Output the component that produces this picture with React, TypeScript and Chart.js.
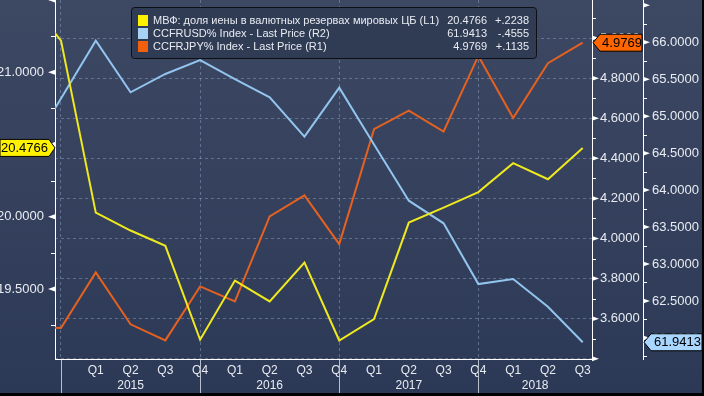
import React, { useEffect, useRef } from "react";
import { Chart, registerables } from "chart.js";

Chart.register(...registerables);

// ---- data ----
const quarters = [
  "Q3 2014", "Q4 2014",
  "Q1 2015", "Q2 2015", "Q3 2015", "Q4 2015",
  "Q1 2016", "Q2 2016", "Q3 2016", "Q4 2016",
  "Q1 2017", "Q2 2017", "Q3 2017", "Q4 2017",
  "Q1 2018", "Q2 2018", "Q3 2018",
];
// IMF: yen share of world FX reserves, % (left axis, L1)
const yenShare = [21.52, 21.219, 20.029, 19.905, 19.799, 19.149, 19.559, 19.414, 19.683, 19.144, 19.292, 19.96, 20.063, 20.171, 20.371, 20.26, 20.4766];
// CCFRUSD% Index (R2)
const usdIndex = [64.467, 65.24, 66.022, 65.323, 65.571, 65.76, 65.503, 65.256, 64.723, 65.386, 64.617, 63.857, 63.551, 62.729, 62.797, 62.422, 61.9413];
// CCFRJPY% Index (R1)
const jpyIndex = [3.556, 3.554, 3.831, 3.572, 3.492, 3.761, 3.686, 4.11, 4.215, 3.972, 4.546, 4.638, 4.534, 4.911, 4.601, 4.875, 4.9769];

const leftMajor = [19.5, 20.0, 20.5, 21.0, 21.5];
const leftMinor = [19.25, 19.75, 20.25, 20.75, 21.25];
const leftLabels = ["19.5000", "20.0000", "20.5000", "21.0000", ""];

const r1Major = [3.4, 3.6, 3.8, 4.0, 4.2, 4.4, 4.6, 4.8, 5.0];
const r1Minor = [3.5, 3.7, 3.9, 4.1, 4.3, 4.5, 4.7, 4.9, 5.1];
const r1Labels = ["", "3.6000", "3.8000", "4.0000", "4.2000", "4.4000", "4.6000", "4.8000", "5.0000"];

const r2Major = [62.0, 62.5, 63.0, 63.5, 64.0, 64.5, 65.0, 65.5, 66.0, 66.5];
const r2Minor = [61.75, 62.25, 62.75, 63.25, 63.75, 64.25, 64.75, 65.25, 65.75, 66.25];
const r2Labels = ["62.0000", "62.5000", "63.0000", "63.5000", "64.0000", "64.5000", "65.0000", "65.5000", "66.0000", ""];

const legendRows = [
  { label: "МВФ: доля иены в валютных резервах мировых ЦБ (L1)", last: "20.4766", change: "+.2238" },
  { label: "CCFRUSD% Index - Last Price (R2)", last: "61.9413", change: "-.4555" },
  { label: "CCFRJPY% Index - Last Price (R1)", last: "4.9769", change: "+.1135" },
];

// ---- styles ----
const YELLOW = "#efe91e";
const BLUE = "#92c4ee";
const ORANGE = "#e5611f";
const BADGE_YELLOW = "#fff200";
const BADGE_ORANGE = "#ff6600";
const BADGE_BLUE = "#a9d6ff";
const FONT = "'Liberation Sans', Arial, sans-serif";
const TEXT = "#e8ecf2";
const GRID = "rgba(150,170,205,0.45)";

const labelFor = (v: number, majors: number[], labels: string[]) => {
  const i = majors.findIndex((m) => Math.abs(m - v) < 1e-6);
  return i >= 0 ? labels[i] : "";
};
const isIn = (v: number, arr: number[]) => arr.some((m) => Math.abs(m - v) < 1e-6);

const fixSize = (w: number | null, h: number | null) => (s: any) => {
  if (w !== null) s.width = w;
  if (h !== null) s.height = h;
  s.paddingTop = 0;
  s.paddingBottom = 0;
  s.paddingLeft = 0;
  s.paddingRight = 0;
};

function drawAxisTicks(ctx: CanvasRenderingContext2D, scale: any, majors: number[], minors: number[], side: number) {
  const x0 = side < 0 ? scale.right : scale.left;
  ctx.save();
  ctx.fillStyle = "#ffffff";
  ctx.strokeStyle = "#ffffff";
  ctx.lineWidth = 1;
  for (const v of minors) {
    if (v < scale.min || v > scale.max) continue;
    const y = Math.round(scale.getPixelForValue(v)) + 0.5;
    ctx.beginPath();
    ctx.moveTo(x0, y);
    ctx.lineTo(x0 + side * 4, y);
    ctx.stroke();
  }
  for (const v of majors) {
    if (v < scale.min - 1e-6 || v > scale.max + 1e-6) continue;
    const y = scale.getPixelForValue(v);
    ctx.beginPath();
    ctx.moveTo(x0, y - 2.5);
    ctx.lineTo(x0 + side * 7, y);
    ctx.lineTo(x0, y + 2.5);
    ctx.closePath();
    ctx.fill();
  }
  ctx.restore();
}

function drawBadge(ctx: CanvasRenderingContext2D, tipX: number, bodyX0: number, bodyX1: number, y: number, color: string, text: string, pointRight: boolean) {
  const h = 17;
  ctx.save();
  ctx.fillStyle = color;
  ctx.strokeStyle = "#000";
  ctx.lineWidth = 1;
  ctx.beginPath();
  if (pointRight) {
    ctx.moveTo(bodyX0, y - h / 2);
    ctx.lineTo(bodyX1, y - h / 2);
    ctx.lineTo(tipX, y);
    ctx.lineTo(bodyX1, y + h / 2);
    ctx.lineTo(bodyX0, y + h / 2);
  } else {
    ctx.moveTo(tipX, y);
    ctx.lineTo(bodyX0, y - h / 2);
    ctx.lineTo(bodyX1, y - h / 2);
    ctx.lineTo(bodyX1, y + h / 2);
    ctx.lineTo(bodyX0, y + h / 2);
  }
  ctx.closePath();
  ctx.fill();
  ctx.stroke();
  ctx.fillStyle = "#000";
  ctx.font = `13px ${FONT}`;
  ctx.textAlign = "center";
  ctx.textBaseline = "middle";
  ctx.fillText(text, (bodyX0 + bodyX1) / 2 + (pointRight ? 0 : 1), y + 0.5);
  ctx.restore();
}

const decor = {
  id: "decor",
  beforeDraw(chart: any) {
    const { ctx, width, height } = chart;
    ctx.save();
    const g = ctx.createLinearGradient(0, 0, 0, height);
    g.addColorStop(0, "#3d4863");
    g.addColorStop(1, "#2c3956");
    ctx.fillStyle = g;
    ctx.fillRect(0, 0, width, height);
    ctx.fillStyle = "#000";
    ctx.fillRect(width - 2, 0, 2, height);
    ctx.fillRect(0, height - 3, width, 3);
    ctx.restore();
  },
  afterDraw(chart: any) {
    const { ctx, chartArea } = chart;
    const xs = chart.scales.x;
    const yL = chart.scales.yL;
    const yR1 = chart.scales.yR1;
    const yR2 = chart.scales.yR2;

    // year separators and year labels
    ctx.save();
    const boundaries: { year: string; px: number }[] = [];
    quarters.forEach((q, i) => {
      const [qq, yy] = q.split(" ");
      if (qq === "Q4" && i - 1 >= 0) boundaries.push({ year: yy, px: xs.getPixelForValue(i - 1) });
    });
    ctx.strokeStyle = "#b8c0cc";
    ctx.lineWidth = 1;
    for (const b of boundaries) {
      const x = Math.round(b.px) + 0.5;
      ctx.beginPath();
      ctx.moveTo(x, chartArea.bottom + 1);
      ctx.lineTo(x, chart.height - 3);
      ctx.stroke();
    }
    const years = Array.from(new Set(quarters.map((q) => q.split(" ")[1]))).filter((y) => y !== "2014");
    ctx.fillStyle = TEXT;
    ctx.font = `12px ${FONT}`;
    ctx.textAlign = "center";
    ctx.textBaseline = "middle";
    for (const y of years) {
      const start = boundaries.find((b) => Number(b.year) === Number(y) - 1);
      const end = boundaries.find((b) => b.year === y);
      const x0 = start ? start.px : chartArea.left;
      const x1 = end ? end.px : chartArea.right;
      ctx.fillText(y, (x0 + x1) / 2, 386);
    }
    ctx.restore();

    // axis ticks
    drawAxisTicks(ctx, yL, leftMajor, leftMinor, -1);
    drawAxisTicks(ctx, yR1, r1Major, r1Minor, 1);
    drawAxisTicks(ctx, yR2, r2Major, r2Minor, 1);

    // value badges
    const last = quarters.length - 1;
    drawBadge(ctx, yL.right, 0, yL.right - 6, yL.getPixelForValue(yenShare[last]), BADGE_YELLOW, legendRows[0].last, true);
    drawBadge(ctx, yR1.left + 1, yR1.left + 8, yR1.right - 1, yR1.getPixelForValue(jpyIndex[last]), BADGE_ORANGE, legendRows[2].last, false);
    drawBadge(ctx, yR2.left + 1, yR2.left + 8, yR2.right, yR2.getPixelForValue(usdIndex[last]), BADGE_BLUE, legendRows[1].last, false);

    // legend box
    ctx.save();
    const lx = 131.5, ly = 7.5, lw = 405, lh = 51;
    ctx.beginPath();
    (ctx as any).roundRect(lx, ly, lw, lh, 3);
    ctx.fillStyle = "#303b54";
    ctx.fill();
    ctx.strokeStyle = "#0d0f14";
    ctx.lineWidth = 1;
    ctx.stroke();
    const swatches = ["#fff200", "#a6d2f6", "#f2600c"];
    const rowY = [20.5, 33.5, 46.5];
    ctx.font = `11px ${FONT}`;
    ctx.textBaseline = "middle";
    legendRows.forEach((r, i) => {
      ctx.fillStyle = swatches[i];
      ctx.fillRect(138, rowY[i] - 5.5, 10, 11);
      ctx.fillStyle = TEXT;
      ctx.textAlign = "left";
      ctx.fillText(r.label, 153, rowY[i]);
      ctx.textAlign = "right";
      ctx.fillText(r.last, 487, rowY[i]);
      ctx.fillText(r.change, 529, rowY[i]);
    });
    ctx.restore();
  },
};

export default function App() {
  const ref = useRef<HTMLCanvasElement | null>(null);

  useEffect(() => {
    document.body.style.margin = "0";
    const canvas = ref.current;
    if (!canvas) return;
    const toPts = (arr: number[]) => arr.map((v, i) => ({ x: i - 1, y: v }));
    const chart = new Chart(canvas, {
      type: "line",
      data: {
        datasets: [
          { label: legendRows[0].label, data: toPts(yenShare), yAxisID: "yL", borderColor: YELLOW, borderWidth: 2, pointRadius: 0, tension: 0 },
          { label: legendRows[1].label, data: toPts(usdIndex), yAxisID: "yR2", borderColor: BLUE, borderWidth: 2, pointRadius: 0, tension: 0 },
          { label: legendRows[2].label, data: toPts(jpyIndex), yAxisID: "yR1", borderColor: ORANGE, borderWidth: 2, pointRadius: 0, tension: 0 },
        ],
      },
      options: {
        responsive: false,
        animation: false,
        devicePixelRatio: 1,
        layout: { autoPadding: false, padding: { top: 0, right: 2, bottom: 3, left: 0 } },
        plugins: { legend: { display: false }, tooltip: { enabled: false } },
        scales: {
          x: {
            type: "linear",
            position: "bottom",
            min: -0.1725,
            max: 15.267,
            afterBuildTicks: (s: any) => {
              s.ticks = quarters.map((_, i) => ({ value: i - 1 })).filter((t) => t.value >= 0);
            },
            afterFit: fixSize(null, 34),
            ticks: {
              autoSkip: false,
              maxRotation: 0,
              padding: 0,
              color: TEXT,
              font: { family: FONT, size: 12 },
              callback: (v: any) => (v === 0 ? "" : quarters[Number(v) + 1].split(" ")[0]),
            },
            grid: {
              color: (c: any) => (c.tick && quarters[c.tick.value + 1] && quarters[c.tick.value + 1].startsWith("Q4") ? GRID : "transparent"),
              tickLength: 4,
              tickColor: "transparent",
            },
            border: { color: "#ffffff", width: 1, dash: [3, 3] },
          },
          yL: {
            type: "linear",
            position: "left",
            min: 19.016,
            max: 21.5,
            afterBuildTicks: (s: any) => {
              s.ticks = [...leftMinor, ...leftMajor].sort((a, b) => a - b).map((v) => ({ value: v }));
            },
            afterFit: fixSize(55, null),
            ticks: {
              autoSkip: false,
              padding: 5,
              color: TEXT,
              font: { family: FONT, size: 13 },
              callback: (v: any) => labelFor(Number(v), leftMajor, leftLabels),
            },
            grid: { drawOnChartArea: false, tickLength: 6, tickColor: "transparent" },
            border: { color: "#ffffff", width: 1 },
          },
          yR1: {
            type: "linear",
            position: "right",
            min: 3.399,
            max: 5.19,
            afterBuildTicks: (s: any) => {
              s.ticks = [...r1Minor, ...r1Major].sort((a, b) => a - b).map((v) => ({ value: v }));
            },
            afterFit: fixSize(51, null),
            ticks: {
              autoSkip: false,
              padding: 2,
              color: TEXT,
              font: { family: FONT, size: 13 },
              callback: (v: any) => labelFor(Number(v), r1Major, r1Labels),
            },
            grid: {
              drawOnChartArea: true,
              color: (c: any) => (c.tick && isIn(c.tick.value, r1Major) ? GRID : "transparent"),
              tickLength: 6,
              tickColor: "transparent",
            },
            border: { color: "#ffffff", width: 1, dash: [3, 3] },
          },
          yR2: {
            type: "linear",
            position: "right",
            min: 61.715,
            max: 66.572,
            afterBuildTicks: (s: any) => {
              s.ticks = [...r2Minor, ...r2Major].sort((a, b) => a - b).map((v) => ({ value: v }));
            },
            afterFit: fixSize(59, null),
            ticks: {
              autoSkip: false,
              padding: 3,
              color: TEXT,
              font: { family: FONT, size: 13 },
              callback: (v: any) => labelFor(Number(v), r2Major, r2Labels),
            },
            grid: { drawOnChartArea: false, tickLength: 6, tickColor: "transparent" },
            border: { color: "#ffffff", width: 1 },
          },
        },
      },
      plugins: [decor],
    } as any);
    return () => chart.destroy();
  }, []);

  return (
    <div style={{ width: 704, height: 396 }}>
      <canvas ref={ref} width={704} height={396} style={{ display: "block" }} />
    </div>
  );
}
